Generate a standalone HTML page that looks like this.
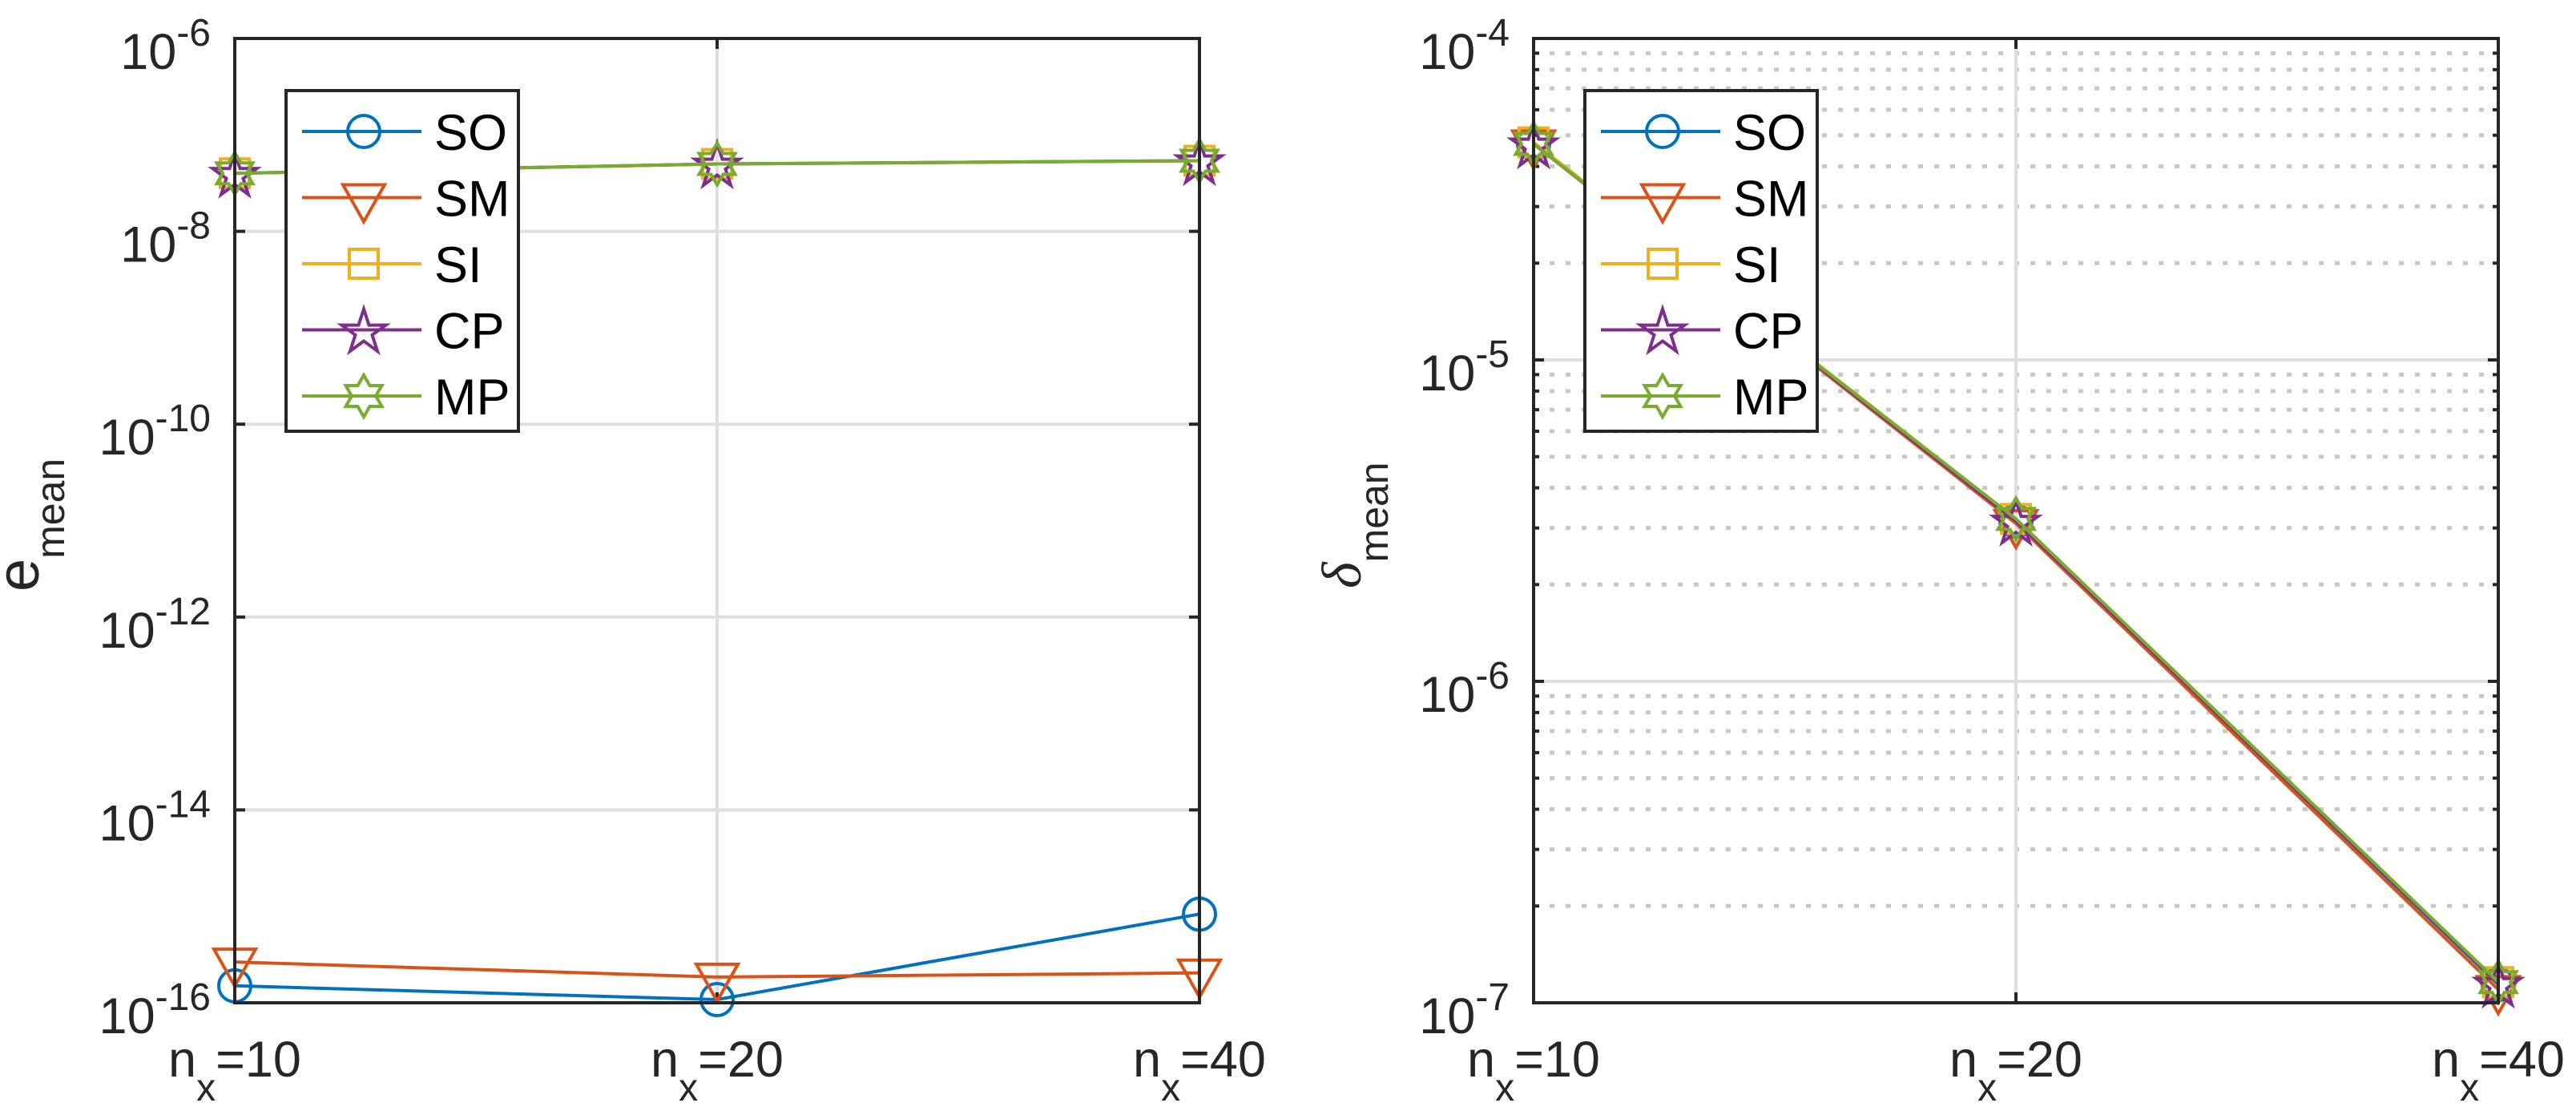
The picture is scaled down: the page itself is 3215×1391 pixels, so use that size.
<!DOCTYPE html>
<html><head><meta charset="utf-8">
<style>
html,body{margin:0;padding:0;background:#fff;}
svg{display:block;font-family:"Liberation Sans",Arial,sans-serif;}
</style></head>
<body>
<svg id="chart" width="3215" height="1391" viewBox="0 0 3215 1391" xmlns="http://www.w3.org/2000/svg">
  <rect x="0" y="0" width="3215" height="1391" fill="#fff"/>
  <g id="left"></g>
  <g id="right"></g>
  <text transform="translate(48,738) rotate(-90)" font-size="74" fill="#262626">e<tspan font-size="50" dy="32">mean</tspan></text>
  <text transform="translate(1698,734) rotate(-90)" font-size="70" fill="#262626"><tspan font-family="Liberation Serif, serif" font-style="italic">δ</tspan><tspan font-size="50" dy="34">mean</tspan></text>
</svg>
<script>
const categories = ["10", "20", "40"];
const seriesNames = ["SO", "SM", "SI", "CP", "MP"];
const seriesColors = ["#0072BD", "#D95319", "#EDB120", "#7E2F8E", "#77AC30"];
const seriesMarkers = ["circle", "triangle", "square", "pentagram", "hexagram"];
// left panel: e_mean
const leftSO = [1.5e-16, 1.08e-16, 8.3e-16];
const leftSM = [2.65e-16, 1.85e-16, 2.04e-16];
const leftSI = [4.0e-8, 5.0e-8, 5.4e-8];
const leftCP = [4.0e-8, 5.0e-8, 5.4e-8];
const leftMP = [4.0e-8, 5.0e-8, 5.4e-8];
const leftTickExps = [-6, -8, -10, -12, -14, -16];
// right panel: delta_mean
const rightSO = [4.7e-5, 3.15e-6, 1.14e-7];
const rightSM = [4.7e-5, 3.1e-6, 1.1e-7];
const rightSI = [4.75e-5, 3.2e-6, 1.16e-7];
const rightCP = [4.7e-5, 3.15e-6, 1.15e-7];
const rightMP = [4.7e-5, 3.2e-6, 1.16e-7];
const rightTickExps = [-4, -5, -6, -7];

const NS = "http://www.w3.org/2000/svg";
function mk(parent, tag, attrs) {
  const e = document.createElementNS(NS, tag);
  for (const k in attrs) e.setAttribute(k, attrs[k]);
  parent.appendChild(e);
  return e;
}
function markerPath(type, cx, cy) {
  let pts = [];
  if (type === "triangle") pts = [[-26,-16],[26,-16],[0,30]];
  else if (type === "square") pts = [[-18,-18],[18,-18],[18,18],[-18,18]];
  else if (type === "pentagram") {
    for (let i = 0; i < 10; i++) { const r = i % 2 ? 11 : 29; const a = -Math.PI/2 + i*Math.PI/5; pts.push([r*Math.cos(a), r*Math.sin(a)+3]); }
  } else if (type === "hexagram") {
    for (let i = 0; i < 12; i++) { const r = i % 2 ? 15 : 26; const a = -Math.PI/2 + i*Math.PI/6; pts.push([r*Math.cos(a), r*Math.sin(a)]); }
  }
  return "M" + pts.map(p => (cx+p[0]).toFixed(1) + "," + (cy+p[1]).toFixed(1)).join("L") + "Z";
}
function drawMarker(g, type, cx, cy, color) {
  let m;
  if (type === "circle") m = mk(g, "circle", {cx: cx, cy: cy, r: 20, fill: "none", stroke: color, "stroke-width": 4});
  else m = mk(g, "path", {d: markerPath(type, cx, cy), fill: "none", stroke: color, "stroke-width": 4, "stroke-linejoin": "miter"});
  return m;
}

function panel(g, x0, x1, yTop, yBot, expTop, expBot, tickExps, series, minor, prefix) {
  const xs = i => x0 + (x1 - x0) * i / (categories.length - 1);
  const ys = v => yTop + (expTop - Math.log10(v)) / (expTop - expBot) * (yBot - yTop);
  const yTick = e => ys(Math.pow(10, e));
  // minor grid
  if (minor) {
    for (let e = expBot; e < expTop; e++) {
      for (let k = 2; k <= 9; k++) {
        const y = ys(k * Math.pow(10, e));
        const l = mk(g, "line", {x1: x0+20, x2: x1-10, y1: y, y2: y, stroke: "#c8c8c8", "stroke-width": 5, "stroke-dasharray": "6 14"});
        
        
        const t1 = mk(g, "line", {x1: x0, x2: x0+7, y1: y, y2: y, stroke: "#262626", "stroke-width": 4});
        
        
        const t2 = mk(g, "line", {x1: x1-7, x2: x1, y1: y, y2: y, stroke: "#262626", "stroke-width": 4});
        
        
      }
    }
  }
  // major grid
  tickExps.forEach(e => {
    const y = yTick(e);
    if (y > yTop + 2 && y < yBot - 2) {
      const l = mk(g, "line", {x1: x0, x2: x1, y1: y, y2: y, stroke: "#dfdfdf", "stroke-width": 4});
      
      
    }
    const t1 = mk(g, "line", {x1: x0, x2: x0+13, y1: y, y2: y, stroke: "#262626", "stroke-width": 4});
    
    
    const t2 = mk(g, "line", {x1: x1-13, x2: x1, y1: y, y2: y, stroke: "#262626", "stroke-width": 4});
    
    
    const lab = mk(g, "text", {x: x0 - 30, y: y + 38, "text-anchor": "end", "font-size": 63, fill: "#262626"});
    
    
    lab.textContent = "10";
    const sup = mk(lab, "tspan", {"font-size": 48, dy: -29});
    sup.textContent = "-" + Math.abs(e);
  });
  // vertical grid + x labels
  categories.forEach((c, i) => {
    const x = xs(i);
    if (i > 0 && i < categories.length - 1) {
      const l = mk(g, "line", {x1: x, x2: x, y1: yTop, y2: yBot, stroke: "#dfdfdf", "stroke-width": 4});
      
      
      const t1 = mk(g, "line", {x1: x, x2: x, y1: yBot-13, y2: yBot, stroke: "#262626", "stroke-width": 4});
      
      
      const t2 = mk(g, "line", {x1: x, x2: x, y1: yTop, y2: yTop+13, stroke: "#262626", "stroke-width": 4});
      
      
    }
    const lab = mk(g, "text", {x: x, y: 1343, "text-anchor": "middle", "font-size": 63, fill: "#262626"});
    
    
    lab.appendChild(document.createTextNode("n"));
    const sub = mk(lab, "tspan", {"font-size": 48, dy: 30});
    sub.textContent = "x";
    const rest = mk(lab, "tspan", {dy: -30});
    rest.textContent = "=" + c;
  });
  // series
  series.forEach((vals, si) => {
    const color = seriesColors[si];
    const sg = mk(g, "g", {});
    
    
    const d = vals.map((v, i) => (i ? "L" : "M") + xs(i).toFixed(1) + "," + ys(v).toFixed(1)).join("");
    const p = mk(sg, "path", {d: d, fill: "none", stroke: color, "stroke-width": 4});
    
    
    vals.forEach((v, i) => {
      const m = drawMarker(sg, seriesMarkers[si], xs(i), ys(v), color);
      
      
    });
  });
  // axes box
  const box = mk(g, "rect", {x: x0, y: yTop, width: x1 - x0, height: yBot - yTop, fill: "none", stroke: "#262626", "stroke-width": 4});
  
  
  // legend
  const lx = x0 + 64, ly = 113, lw = 290, lh = 425;
  const lg = mk(g, "g", {});
  
  
  const lr = mk(lg, "rect", {x: lx, y: ly, width: lw, height: lh, fill: "#fff", stroke: "#262626", "stroke-width": 4});
  
  
  seriesNames.forEach((n, si) => {
    const ry = ly + 51 + si * 82.5;
    const eg = mk(lg, "g", {});
    
    
    mk(eg, "line", {x1: lx + 20, x2: lx + 169, y1: ry, y2: ry, stroke: seriesColors[si], "stroke-width": 4});
    drawMarker(eg, seriesMarkers[si], lx + 97, ry, seriesColors[si]);
    const t = mk(eg, "text", {x: lx + 185, y: ry + 23, "font-size": 63, fill: "#000"});
    t.textContent = n;
  });
}

panel(document.getElementById("left"), 293, 1497, 48, 1251, -6, -16, leftTickExps,
  [leftSO, leftSM, leftSI, leftCP, leftMP], false, "left");
panel(document.getElementById("right"), 1914, 3118, 48, 1251, -4, -7, rightTickExps,
  [rightSO, rightSM, rightSI, rightCP, rightMP], true, "right");
</script>
</body></html>
